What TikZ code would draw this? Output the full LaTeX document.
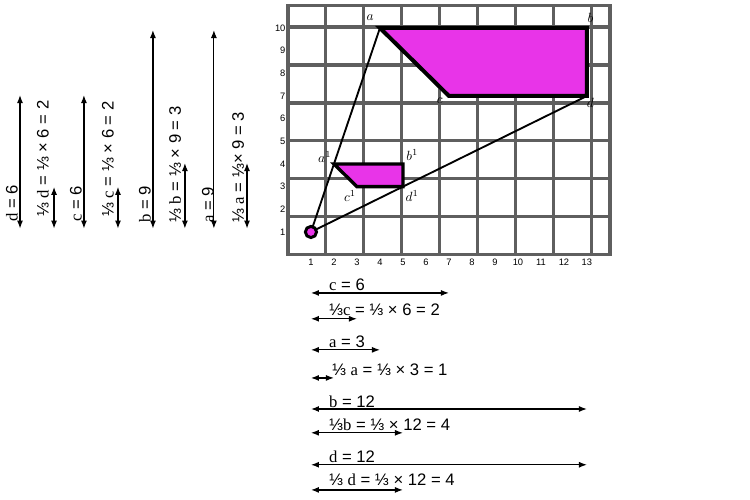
\documentclass[tikz,border=0pt]{standalone}
\usepackage{fontspec}
\setmainfont{Liberation Sans}
\newfontfamily\varfont{Liberation Serif}
\usetikzlibrary{arrows.meta}
\definecolor{shade}{RGB}{232,52,232}
\definecolor{gridgray}{RGB}{95,95,95}

\begin{document}
\begin{tikzpicture}[x=17.25pt,y=17pt,
        gridline/.style = {draw=gridgray, line width=2.4pt},
        figure/.style = {draw=black, line width=3pt, fill=shade},
        ray/.style = {draw=black, line width=1.4pt},
        vertex/.style = {font=\fontsize{10}{11}\selectfont, inner sep=0pt},
        tick/.style = {font=\fontsize{7}{8}\selectfont, inner sep=0pt},
        dim/.style = {{Latex[length=6pt,width=4.5pt]}-{Latex[length=6pt,width=4.5pt]},
          line width=0.9pt},
        lbl/.style = {font=\fontsize{12.5}{14}\selectfont, inner sep=0pt, anchor=west},
        vlbl/.style = {lbl, rotate=90}]
        \useasboundingbox (-12.52,-10.82) rectangle (20.09,11.235);

        \draw[gridline] (0,0) grid (14,11);
        \draw[gridline] (0,0) rectangle (14,11);
        \foreach \i in {1,...,13} \node[tick] (x\i) at (\i,-0.32) {\i};
        \foreach \j in {1,...,10} \node[tick, anchor=east] (y\j) at (-0.1,\j) {\j};

        \coordinate (o) at (1,1);
        \coordinate (a) at (4,10);
        \coordinate (b) at (13,10);
        \coordinate (c) at (7,7);
        \coordinate (d) at (13,7);
        \coordinate (a1) at (2,4);
        \coordinate (b1) at (5,4);
        \coordinate (c1) at (3,3);
        \coordinate (d1) at (5,3);

        \draw[ray] (o) -- (a);
        \draw[ray] (o) -- (d);
        \draw[figure] (a) -- (b) -- (d) -- (c) -- cycle;
        \draw[figure, line width=2.5pt] (a1) -- (b1) -- (d1) -- (c1) -- cycle;
        \draw[figure, line width=2.2pt] (o) circle (4.2pt);

        \node[vertex] (la) at (3.57,10.44) {$a$};
        \node[vertex] (lb) at (13.15,10.44) {$b$};
        \node[vertex] (lc) at (6.6,6.8) {$c$};
        \node[vertex] (ld) at (13.15,6.7) {$d$};
        \node[vertex] (la1) at (1.6,4.3) {$a^1$};
        \node[vertex] (lb1) at (5.4,4.4) {$b^1$};
        \node[vertex] (lc1) at (2.7,2.6) {$c^1$};
        \node[vertex] (ld1) at (5.4,2.6) {$d^1$};

        \node[vlbl] (vd) at (-12.0,1.44) {{\varfont d} = 6};
        \draw[dim] (-11.65,1.15) -- (-11.65,7.04);
        \node[vlbl] (vd3) at (-10.65,1.66) {⅓ {\varfont d} = ⅓ × 6 = 2};
        \draw[dim] (-10.17,1.15) -- (-10.17,2.99);
        \node[vlbl] (vc) at (-9.22,1.44) {{\varfont c} = 6};
        \draw[dim] (-8.87,1.15) -- (-8.87,7.04);
        \node[vlbl] (vc3) at (-7.83,1.66) {⅓ {\varfont c} = ⅓ × 6 = 2};
        \draw[dim] (-7.39,1.15) -- (-7.39,2.99);
        \node[vlbl] (vb) at (-6.22,1.40) {{\varfont b} = 9};
        \draw[dim] (-5.87,1.15) -- (-5.87,9.91);
        \node[vlbl] (vb3) at (-4.91,1.40) {⅓ {\varfont b} = ⅓ × 9 = 3};
        \draw[dim] (-4.48,1.15) -- (-4.48,4.04);
        \node[vlbl] (va) at (-3.48,1.40) {{\varfont a} = 9};
        \draw[dim] (-3.22,1.15) -- (-3.22,9.91);
        \node[vlbl] (va3) at (-2.17,1.40) {⅓ {\varfont a} = ⅓× 9 = 3};
        \draw[dim] (-1.78,1.15) -- (-1.78,4.04);

        \node[lbl] (hc) at (1.78,-1.34) {{\varfont c} = 6};
        \draw[dim] (1,-1.69) -- (7,-1.69);
        \node[lbl] (hc3) at (1.78,-2.44) {⅓{\varfont c} = ⅓ × 6 = 2};
        \draw[dim] (1,-2.83) -- (3,-2.83);
        \node[lbl] (ha) at (1.78,-3.85) {{\varfont a} = 3};
        \draw[dim] (1,-4.20) -- (4,-4.20);
        \node[lbl] (ha3) at (1.91,-5.09) {⅓ {\varfont a} = ⅓ × 3 = 1};
        \draw[dim] (1,-5.44) -- (2,-5.44);
        \node[lbl] (hb) at (1.78,-6.50) {{\varfont b} = 12};
        \draw[dim] (1,-6.81) -- (13,-6.81);
        \node[lbl] (hb3) at (1.78,-7.51) {⅓{\varfont b} = ⅓ × 12 = 4};
        \draw[dim] (1,-7.86) -- (5,-7.86);
        \node[lbl] (hd) at (1.78,-8.92) {{\varfont d} = 12};
        \draw[dim] (1,-9.27) -- (13,-9.27);
        \node[lbl] (hd3) at (1.78,-9.94) {⅓ {\varfont d} = ⅓ × 12 = 4};
        \draw[dim] (1,-10.38) -- (5,-10.38);
      \end{tikzpicture}
\end{document}
